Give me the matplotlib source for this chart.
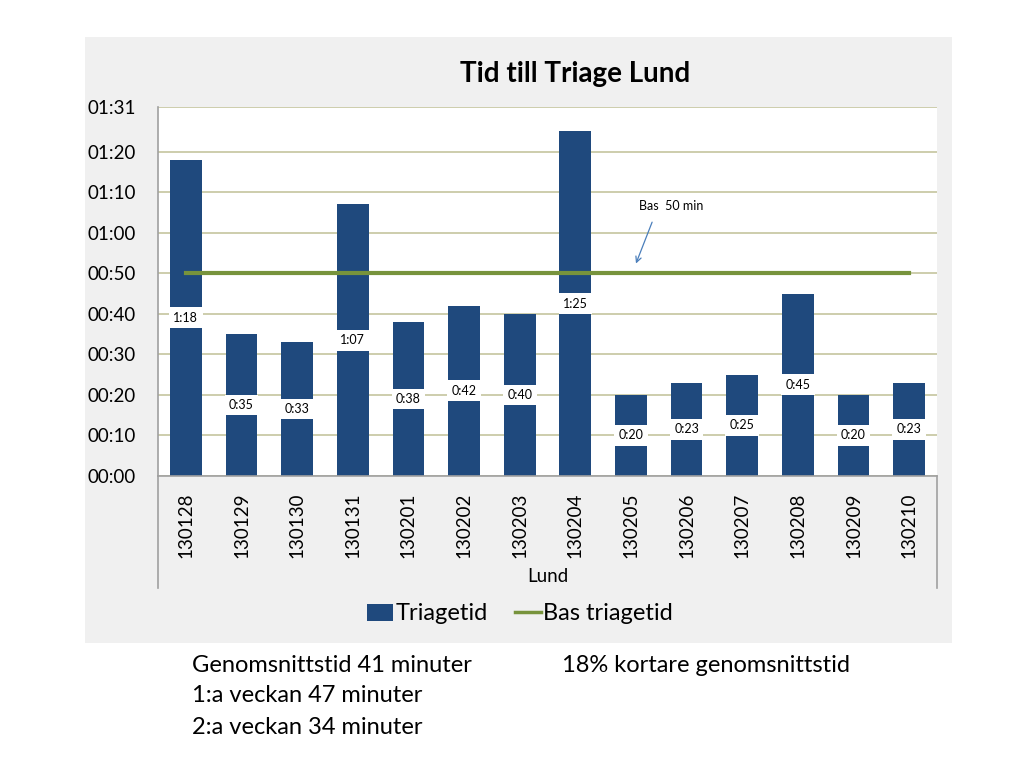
import matplotlib.pyplot as plt
from matplotlib.patches import Rectangle, Patch
from matplotlib.lines import Line2D

plt.rcParams['font.family'] = ['Lato', 'DejaVu Sans']

# data #
dates = ['130128', '130129', '130130', '130131', '130201', '130202', '130203',
         '130204', '130205', '130206', '130207', '130208', '130209', '130210']
minutes = [78, 35, 33, 67, 38, 42, 40, 85, 20, 23, 25, 45, 20, 23]
bas = 50
yticks = [0, 10, 20, 30, 40, 50, 60, 70, 80, 91]

bar_color = '#1F497D'
line_color = '#77933C'
grid_color = '#c5c59e'

fig = plt.figure(figsize=(10.24, 7.68), dpi=100)
fig.patch.set_facecolor('white')

# gray chart panel #
fig.patches.append(Rectangle((85 / 1024, 1 - 643 / 768), 867 / 1024, 606 / 768,
                             transform=fig.transFigure, facecolor='#f0f0f0',
                             edgecolor='none', zorder=-5))

ax = fig.add_axes([158 / 1024, 1 - 476 / 768, 779 / 1024, 369 / 768])
ax.set_facecolor('white')

x = list(range(len(dates)))
ax.bar(x, minutes, width=0.57, color=bar_color, zorder=2)
ax.plot([x[0], x[-1]], [bas, bas], color=line_color, linewidth=3, zorder=3)

# data labels #
for xi, m in zip(x, minutes):
    ax.text(xi, m / 2, f'{m // 60}:{m % 60:02d}', ha='center', va='center',
            fontsize=9, zorder=4,
            bbox=dict(boxstyle='square,pad=0.35', facecolor='white', edgecolor='none'))

# Bas note with arrow #
ax.text(8.72, 66.6, 'Bas  50 min', ha='center', va='center', fontsize=9)
ax.annotate('', xy=(8.09, 52.4), xytext=(8.38, 62.6),
            arrowprops=dict(arrowstyle='->', color='#4a7ebb', lw=0.9,
                            shrinkA=0, shrinkB=0))

ax.set_xlim(-0.5, len(dates) - 0.5)
ax.set_ylim(0, 91)
ax.set_yticks(yticks)
ax.set_yticklabels([f'{t // 60:02d}:{t % 60:02d}' for t in yticks], fontsize=13.5)
ax.set_xticks(x)
ax.set_xticklabels(dates, rotation=90, fontsize=13.5)
ax.tick_params(axis='y', length=0, pad=16)
ax.tick_params(axis='x', length=0, pad=12)
ax.yaxis.grid(True, color=grid_color, linewidth=1.2, zorder=1)
ax.set_axisbelow(True)
for s in ['top', 'right']:
    ax.spines[s].set_visible(False)
for s in ['left', 'bottom']:
    ax.spines[s].set_color('#a0a0a0')
    ax.spines[s].set_linewidth(1.2)

# category axis box lines #
for px in [158, 937]:
    fig.add_artist(Line2D([px / 1024, px / 1024], [1 - 476 / 768, 1 - 588 / 768],
                          transform=fig.transFigure, color='#a0a0a0', linewidth=1.2))

fig.text(548 / 1024, 1 - 576 / 768, 'Lund', ha='center', va='center', fontsize=13.5)
fig.text(575 / 1024, 1 - 74 / 768, 'Tid till Triage Lund', ha='center', va='center',
         fontsize=20, fontweight='bold')

# legend #
handles = [Patch(facecolor=bar_color), Line2D([], [], color=line_color, linewidth=2.5)]
fig.legend(handles, ['Triagetid', 'Bas triagetid'], loc='center',
           bbox_to_anchor=(520 / 1024, 1 - 614 / 768), ncol=2, frameon=False,
           fontsize=17, handlelength=1.1, handletextpad=0.1, columnspacing=1.15)

# notes under chart #
fig.text(192 / 1024, 1 - 666 / 768, 'Genomsnittstid 41 minuter', va='center', fontsize=17)
fig.text(192 / 1024, 1 - 696 / 768, '1:a veckan 47 minuter', va='center', fontsize=17)
fig.text(192 / 1024, 1 - 727 / 768, '2:a veckan 34 minuter', va='center', fontsize=17)
fig.text(562 / 1024, 1 - 666 / 768, '18% kortare genomsnittstid', va='center', fontsize=17)

fig.savefig('out.png', dpi=100)
